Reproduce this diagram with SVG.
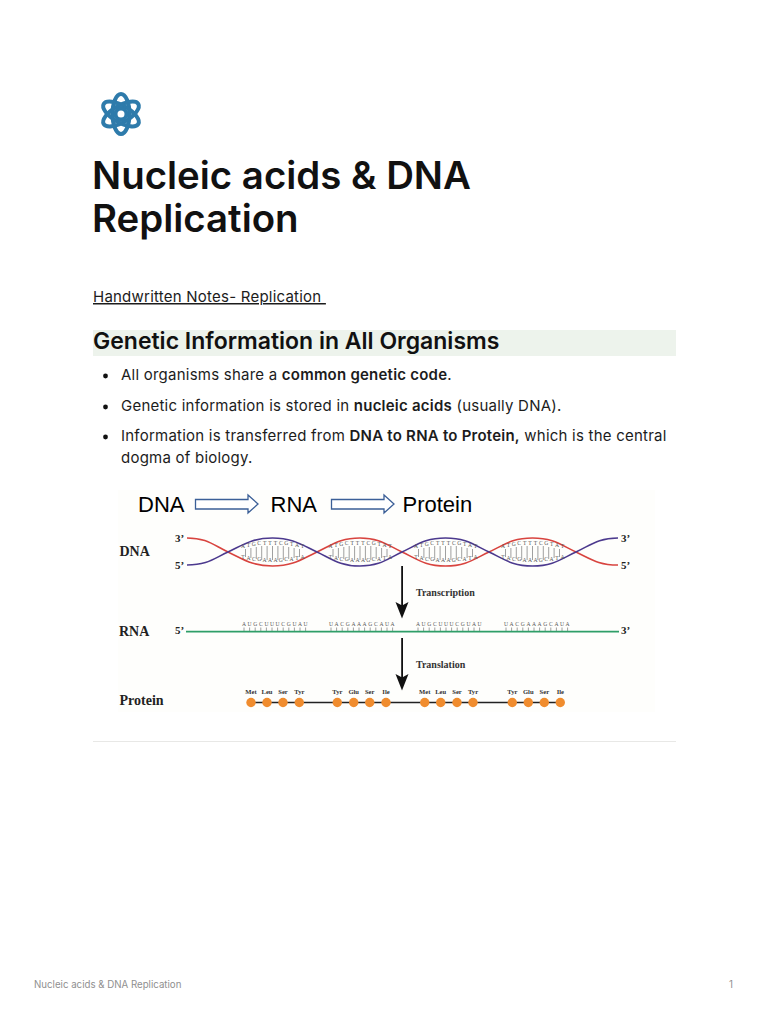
<svg xmlns="http://www.w3.org/2000/svg" xmlns:xlink="http://www.w3.org/1999/xlink" width="768" height="1024" viewBox="0 0 768 1024">
<style>
text{font-family:Inter,"Liberation Sans",sans-serif;fill:#111}
.title{font-size:38.4px;font-weight:600}
.body{font-size:15px;letter-spacing:.23px;fill:#1c1c1c}
.b{font-weight:600}
.h{font-size:23px;font-weight:600}
.foot{font-size:9.7px;fill:#8f8f8f}
.big{font-family:"Liberation Sans",Arial,sans-serif;font-size:22px;fill:#000}
.s{font-family:"Liberation Serif","Times New Roman",serif;font-weight:700;fill:#222}
.lab{font-size:14px}
.end{font-size:11px}
.proc{font-size:10px;fill:#333}
.aa{font-size:6.6px;fill:#333;text-anchor:middle}
.base{font-family:"Liberation Serif",serif;font-size:5.6px;fill:#555;text-anchor:middle}
.rung{stroke:#888;stroke-width:.8;fill:none}
.blockarrow{fill:#fff;stroke:#3b5f97;stroke-width:1.3}
.downarrow{fill:#111}
.res{fill:#f08c2e}
.orbit{fill:none;stroke:#2e7bab;stroke-width:4}
</style>
<defs>
<g id="helixSeg">
<path class="rung" d="M-27 549V557M-21.6 548V558M-16.2 547V559M-10.8 546V560M-5.4 546V560M0 546V560M5.4 546V560M10.8 546V560M16.2 547V559M21.6 548V558M27 549V557"/>
</g>
<g id="rnaTicks"><path class="rung" d="M0 627.5V631M5.6 627.5V631M11.2 627.5V631M16.8 627.5V631M22.4 627.5V631M28 627.5V631M33.6 627.5V631M39.2 627.5V631M44.8 627.5V631M50.4 627.5V631M56 627.5V631M61.6 627.5V631"/></g>
</defs>

<g id="atom-icon">
<ellipse class="orbit" cx="121" cy="114" rx="8.5" ry="20"/>
<ellipse class="orbit" cx="121" cy="114" rx="8.5" ry="20" transform="rotate(60 121 114)"/>
<ellipse class="orbit" cx="121" cy="114" rx="8.5" ry="20" transform="rotate(-60 121 114)"/>
<circle cx="121" cy="114" r="5.500" fill="#fff" stroke="#2e7bab" stroke-width="4"/>
</g>

<g id="title">
<text class="title" x="92" y="189">Nucleic acids &amp; DNA</text>
<text class="title" x="92" y="232">Replication</text>
</g>
<text id="link" class="body" x="93" y="302" text-decoration="underline" xml:space="preserve">Handwritten Notes- Replication </text>

<g id="heading">
<rect x="93" y="330" width="583" height="26" fill="#edf3ec"/>
<text class="h" x="93" y="349">Genetic Information in All Organisms</text>
</g>

<g id="bullets">
<circle cx="105.500" cy="376" r="2.400" fill="#111"/>
<text class="body" x="121" y="380">All organisms share a <tspan class="b">common genetic code</tspan>.</text>
<circle cx="105.500" cy="407" r="2.400" fill="#111"/>
<text class="body" x="121" y="411">Genetic information is stored in <tspan class="b">nucleic acids</tspan> (usually DNA).</text>
<circle cx="105.500" cy="437" r="2.400" fill="#111"/>
<text class="body" x="121" y="441">Information is transferred from <tspan class="b">DNA to RNA to Protein,</tspan> which is the central</text>
<text class="body" x="121" y="463">dogma of biology.</text>
</g>

<g id="figure">
<rect x="118" y="490" width="537" height="222" fill="#fefefc"/>
</g>

<g id="flow">
<text class="big" x="138" y="512">DNA</text>
<text class="big" x="270.500" y="512">RNA</text>
<text class="big" x="402.500" y="512">Protein</text>
</g>

<g id="connectors">
<path class="blockarrow" d="M195.500 499.500H248V495L258 504 248 513V509H195.500Z"/>
<path class="blockarrow" d="M331.500 499.500H384V495L394 504 384 513V509H331.500Z"/>
<path class="downarrow" d="M401.200 566H403V605L408.500 602 402 618.500 395.500 602 401.200 605Z"/>
<path class="downarrow" d="M401.200 638H403V677L408.500 674 402 690.500 395.500 674 401.200 677Z"/>
</g>

<g id="helix">
<use xlink:href="#helixSeg" href="#helixSeg" x="272.500"/>
<use xlink:href="#helixSeg" href="#helixSeg" x="360"/>
<use xlink:href="#helixSeg" href="#helixSeg" x="445.500"/>
<use xlink:href="#helixSeg" href="#helixSeg" x="532.500"/>
<path fill="none" stroke="#d8443f" stroke-width="1.600" d="M187 538C207 538 213 545 228 552S252 566 272.500 566 302 559 317 552 340 538 360 538 387 545 402 552 425 566 445.500 566 474 559 489 552 512 538 532.500 538 561 545 576 552 598 565 618 565"/>
<path fill="none" stroke="#4c3a8e" stroke-width="1.600" d="M187 565C207 565 213 559 228 552S252 538 272.500 538 302 545 317 552 340 566 360 566 387 559 402 552 425 538 445.500 538 474 545 489 552 512 566 532.500 566 561 559 576 552 598 538 618 538"/>
<g class="base">
<text class="base" x="243 248.400 253.800 259.200 264.600 270 275.400 280.800 286.200 291.600 297 302.400" y="547.500 546.500 545.500 545 544.500 544.500 544.500 544.500 545 545.500 546.500 547.500">ATGCTTTCGTAT</text>
<text class="base" x="243 248.400 253.800 259.200 264.600 270 275.400 280.800 286.200 291.600 297 302.400" y="558.500 559.500 560.500 561 561.500 561.500 561.500 561.500 561 560.500 559.500 558.500">TACGAAAGCATA</text>
<text class="base" x="330.500 335.900 341.300 346.700 352.100 357.500 362.900 368.300 373.700 379.100 384.500 389.900" y="547.500 546.500 545.500 545 544.500 544.500 544.500 544.500 545 545.500 546.500 547.500">ATGCTTTCGTAT</text>
<text class="base" x="330.500 335.900 341.300 346.700 352.100 357.500 362.900 368.300 373.700 379.100 384.500 389.900" y="558.500 559.500 560.500 561 561.500 561.500 561.500 561.500 561 560.500 559.500 558.500">TACGAAAGCATA</text>
<text class="base" x="416 421.400 426.800 432.200 437.600 443 448.400 453.800 459.200 464.600 470 475.400" y="547.500 546.500 545.500 545 544.500 544.500 544.500 544.500 545 545.500 546.500 547.500">ATGCTTTCGTAT</text>
<text class="base" x="416 421.400 426.800 432.200 437.600 443 448.400 453.800 459.200 464.600 470 475.400" y="558.500 559.500 560.500 561 561.500 561.500 561.500 561.500 561 560.500 559.500 558.500">TACGAAAGCATA</text>
<text class="base" x="503 508.400 513.800 519.200 524.600 530 535.400 540.800 546.200 551.600 557 562.400" y="547.500 546.500 545.500 545 544.500 544.500 544.500 544.500 545 545.500 546.500 547.500">ATGCTTTCGTAT</text>
<text class="base" x="503 508.400 513.800 519.200 524.600 530 535.400 540.800 546.200 551.600 557 562.400" y="558.500 559.500 560.500 561 561.500 561.500 561.500 561.500 561 560.500 559.500 558.500">TACGAAAGCATA</text>
</g>
<text class="s lab" x="119.500" y="556">DNA</text>
<text class="s end" x="175" y="542">3’</text>
<text class="s end" x="175" y="568.500">5’</text>
<text class="s end" x="621" y="542">3’</text>
<text class="s end" x="621" y="568.500">5’</text>
</g>

<g id="transcription">
<text class="s proc" x="416" y="596">Transcription</text>
</g>

<g id="rna">
<text class="s lab" x="119" y="636">RNA</text>
<text class="s end" x="175" y="634">5’</text>
<text class="s end" x="621" y="634">3’</text>
<use xlink:href="#rnaTicks" href="#rnaTicks" x="244"/>
<use xlink:href="#rnaTicks" href="#rnaTicks" x="331"/>
<use xlink:href="#rnaTicks" href="#rnaTicks" x="418"/>
<use xlink:href="#rnaTicks" href="#rnaTicks" x="506"/>
<text class="base" x="244 249.600 255.200 260.800 266.400 272 277.600 283.200 288.800 294.400 300 305.600" y="626">AUGCUUUCGUAU</text>
<text class="base" x="331 336.600 342.200 347.800 353.400 359 364.600 370.200 375.800 381.400 387 392.600" y="626">UACGAAAGCAUA</text>
<text class="base" x="418 423.600 429.200 434.800 440.400 446 451.600 457.200 462.800 468.400 474 479.600" y="626">AUGCUUUCGUAU</text>
<text class="base" x="506 511.600 517.200 522.800 528.400 534 539.600 545.200 550.800 556.400 562 567.600" y="626">UACGAAAGCAUA</text>
<path d="M186 631.700H619" stroke="#2f9e68" stroke-width="1.700" fill="none"/>
</g>

<g id="translation">
<text class="s proc" x="416" y="668">Translation</text>
</g>

<g id="protein">
<text class="s lab" x="119.500" y="705">Protein</text>
<path d="M251 702.500H560" stroke="#222" stroke-width="1.400" fill="none"/>
<circle class="res" cx="251" cy="702.500" r="4.700"/><circle class="res" cx="267" cy="702.500" r="4.700"/><circle class="res" cx="283" cy="702.500" r="4.700"/><circle class="res" cx="299.300" cy="702.500" r="4.700"/>
<circle class="res" cx="337.300" cy="702.500" r="4.700"/><circle class="res" cx="353.700" cy="702.500" r="4.700"/><circle class="res" cx="369.700" cy="702.500" r="4.700"/><circle class="res" cx="386" cy="702.500" r="4.700"/>
<circle class="res" cx="424.700" cy="702.500" r="4.700"/><circle class="res" cx="440.700" cy="702.500" r="4.700"/><circle class="res" cx="457" cy="702.500" r="4.700"/><circle class="res" cx="473" cy="702.500" r="4.700"/>
<circle class="res" cx="512.300" cy="702.500" r="4.700"/><circle class="res" cx="528.300" cy="702.500" r="4.700"/><circle class="res" cx="544.300" cy="702.500" r="4.700"/><circle class="res" cx="560.300" cy="702.500" r="4.700"/>
<text class="s aa" x="251" y="694">Met</text><text class="s aa" x="267" y="694">Leu</text><text class="s aa" x="283" y="694">Ser</text><text class="s aa" x="299.300" y="694">Tyr</text>
<text class="s aa" x="337.300" y="694">Tyr</text><text class="s aa" x="353.700" y="694">Glu</text><text class="s aa" x="369.700" y="694">Ser</text><text class="s aa" x="386" y="694">Ile</text>
<text class="s aa" x="424.700" y="694">Met</text><text class="s aa" x="440.700" y="694">Leu</text><text class="s aa" x="457" y="694">Ser</text><text class="s aa" x="473" y="694">Tyr</text>
<text class="s aa" x="512.300" y="694">Tyr</text><text class="s aa" x="528.300" y="694">Glu</text><text class="s aa" x="544.300" y="694">Ser</text><text class="s aa" x="560.300" y="694">Ile</text>
</g>

<path id="divider" d="M93 741.500H676" stroke="#e8e8e6" stroke-width="1" fill="none"/>

<g id="footer">
<text class="foot" x="34" y="988">Nucleic acids &amp; DNA Replication</text>
<text class="foot" x="729" y="988">1</text>
</g>
</svg>
